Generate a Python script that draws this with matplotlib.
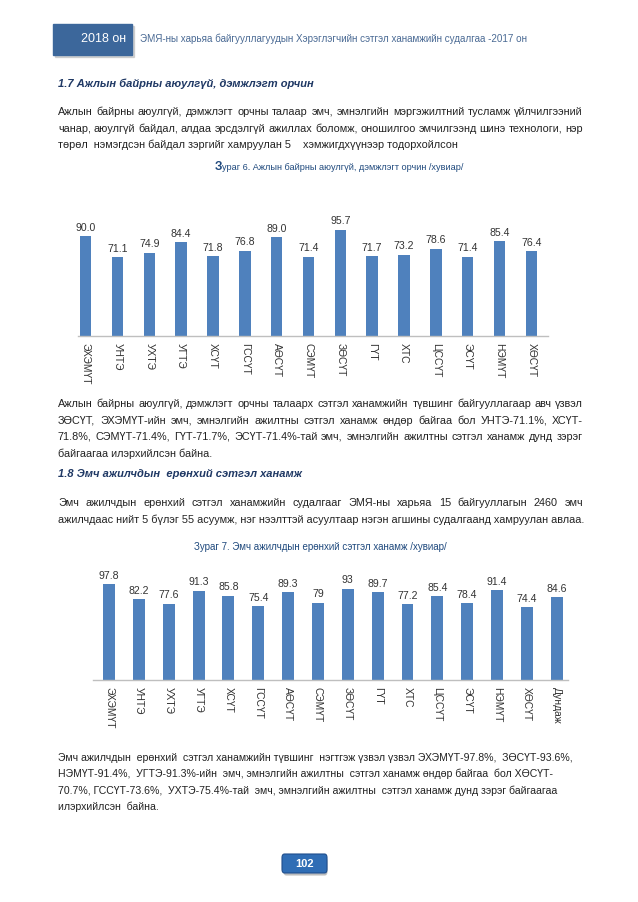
import matplotlib
matplotlib.use('Agg')
import matplotlib.pyplot as plt
from matplotlib.patches import Rectangle, FancyBboxPatch
from matplotlib.font_manager import FontProperties

# chart data
cats1 = ['ЭХЭМҮТ', 'УНТЭ', 'УХТЭ', 'УГТЭ', 'ХСҮТ', 'ГССҮТ', 'АӨСҮТ', 'СЭМҮТ',
         'ЗӨСҮТ', 'ГҮТ', 'ХТС', 'ЦССҮТ', 'ЭСҮТ', 'НЭМҮТ', 'ХӨСҮТ']
vals1 = [90.0, 71.1, 74.9, 84.4, 71.8, 76.8, 89.0, 71.4, 95.7, 71.7, 73.2, 78.6, 71.4, 85.4, 76.4]
cats2 = cats1 + ['Дундаж']
vals2 = [97.8, 82.2, 77.6, 91.3, 85.8, 75.4, 89.3, 79, 93, 89.7, 77.2, 85.4, 78.4, 91.4, 74.4, 84.6]

header = 'ЭМЯ-ны харьяа байгууллагуудын Хэрэглэгчийн сэтгэл ханамжийн судалгаа -2017 он'
head1 = '1.7 Ажлын байрны аюулгүй, дэмжлэгт орчин'
para1 = ['Ажлын байрны аюулгүй, дэмжлэгт орчны талаар эмч, эмнэлгийн мэргэжилтний тусламж үйлчилгээний',
         'чанар, аюулгүй байдал, алдаа эрсдэлгүй ажиллах боломж, оношилгоо эмчилгээнд шинэ технологи, нэр',
         'төрөл  нэмэгдсэн байдал зэргийг хамруулан 5    хэмжигдхүүнээр тодорхойлсон']
cap1 = 'ураг 6. Ажлын байрны аюулгүй, дэмжлэгт орчин /хувиар/'
para2 = ['Ажлын байрны аюулгүй, дэмжлэгт орчны талаарх сэтгэл ханамжийн түвшинг байгууллагаар авч үзвэл',
         'ЗӨСҮТ, ЭХЭМҮТ-ийн эмч, эмнэлгийн ажилтны сэтгэл ханамж өндөр байгаа бол УНТЭ-71.1%, ХСҮТ-',
         '71.8%, СЭМҮТ-71.4%, ГҮТ-71.7%, ЭСҮТ-71.4%-тай эмч, эмнэлгийн ажилтны сэтгэл ханамж дунд зэрэг',
         'байгаагаа илэрхийлсэн байна.']
head2 = '1.8 Эмч ажилчдын  ерөнхий сэтгэл ханамж'
para3 = ['Эмч ажилчдын ерөнхий сэтгэл ханамжийн судалгааг ЭМЯ-ны харьяа 15 байгууллагын 2460 эмч',
         'ажилчдаас нийт 5 бүлэг 55 асуумж, нэг нээлттэй асуултаар нэгэн агшины судалгаанд хамруулан авлаа.']
cap2 = 'Зураг 7. Эмч ажилчдын ерөнхий сэтгэл ханамж /хувиар/'
para4 = ['Эмч ажилчдын  ерөнхий  сэтгэл ханамжийн түвшинг  нэгтгэж үзвэл үзвэл ЭХЭМҮТ-97.8%,  ЗӨСҮТ-93.6%,',
         'НЭМҮТ-91.4%,  УГТЭ-91.3%-ийн  эмч, эмнэлгийн ажилтны  сэтгэл ханамж өндөр байгаа  бол ХӨСҮТ-',
         '70.7%, ГССҮТ-73.6%,  УХТЭ-75.4%-тай  эмч, эмнэлгийн ажилтны  сэтгэл ханамж дунд зэрэг байгаагаа',
         'илэрхийлсэн  байна.']
page_no = '102'

W, H = 638, 902
FONT = ['Liberation Sans', 'DejaVu Sans']
plt.rcParams['font.family'] = FONT

fig = plt.figure(figsize=(W / 100, H / 100), dpi=100)
fig.patch.set_facecolor('white')
renderer = fig.canvas.get_renderer()


def fx(x):
    return x / W


def fy(y):
    return 1 - y / H


def text_width(s, size, weight='normal', style='normal'):
    fp = FontProperties(family=FONT, size=size, weight=weight, style=style)
    w, h, d = renderer.get_text_width_height_descent(s, fp, ismath=False)
    return w


def line(y, s, size=7.8, justify=False, x0=58, x1=583, color='#222222', **kw):
    # y is the visual middle of the line, text sits on a baseline just below it
    yb = fy(y + size * 0.48)
    if not justify:
        fig.text(fx(x0), yb, s, size=size, color=color, va='baseline', ha='left', **kw)
        return
    words = s.split()
    widths = [text_width(w, size, **kw) for w in words]
    gap = (x1 - x0 - sum(widths)) / (len(words) - 1)
    x = x0
    for w, wd in zip(words, widths):
        fig.text(fx(x), yb, w, size=size, color=color, va='baseline', ha='left', **kw)
        x += wd + gap


def bar_chart(left, right, base, first, step, scale, bw, cats, vals, labels):
    ymax = 110
    ax = fig.add_axes([fx(left), fy(base), (right - left) / W, ymax * scale / H])
    ax.patch.set_alpha(0)
    n = len(vals)
    ax.bar(range(n), vals, width=bw, color='#4F81BD')
    for i, v in enumerate(vals):
        ax.annotate(labels[i], (i, v), xytext=(0, 2.5), textcoords='offset points',
                    ha='center', va='bottom', fontsize=7.6, color='#333333')
    ax.set_xlim(-(first - left) / step, (right - first) / step)
    ax.set_ylim(0, ymax)
    ax.set_xticks(range(n))
    ax.set_xticklabels(cats, rotation=-90, fontsize=7.4, color='#333333', va='top', ha='center')
    ax.tick_params(axis='x', length=0, pad=5)
    ax.set_yticks([])
    for s in ['left', 'right', 'top']:
        ax.spines[s].set_visible(False)
    ax.spines['bottom'].set_color('#BFBFBF')
    ax.spines['bottom'].set_linewidth(1.0)
    return ax


# page header
fig.patches.append(Rectangle((fx(55), fy(57)), 79 / W, 31 / H, transform=fig.transFigure,
                             color='#BBBBBB', alpha=0.6, zorder=1))
fig.patches.append(Rectangle((fx(53), fy(55)), 79 / W, 31 / H, transform=fig.transFigure,
                             color='#3C679B', zorder=2))
fig.text(fx(104), fy(39), '2018 он', size=9, color='white', ha='center', va='center')
fig.text(fx(140), fy(39), header, size=7.1, color='#4A6A94', ha='left', va='center')

# section 1.7
line(83, head1, size=8, color='#1F3864', weight='bold', style='italic')
line(111, para1[0], justify=True)
line(128, para1[1], justify=True)
line(144, para1[2])

# caption 6 with larger first letter
w0 = text_width('З', 8.6, weight='bold')
fig.text(fx(215), fy(167), 'З', size=8.6, weight='bold', color='#1F497D', ha='left', va='center')
fig.text(fx(215 + w0), fy(167), cap1, size=6.6, color='#1F497D', ha='left', va='center')

bar_chart(78, 548, 336, 85.7, 31.83, 1.11, 0.36, cats1, vals1, ['%.1f' % v for v in vals1])

line(403, para2[0], justify=True)
line(420, para2[1], justify=True)
line(436, para2[2], justify=True)
line(453, para2[3])

line(473, head2, size=8, color='#1F3864', weight='bold', style='italic')
line(502, para3[0], justify=True)
line(519, para3[1])

fig.text(fx(320), fy(547), cap2, size=7, color='#1F497D', ha='center', va='center')

bar_chart(93, 568, 680, 109, 29.85, 0.98, 0.4, cats2, vals2, ['%g' % v for v in vals2])

for i, s in enumerate(para4):
    line(757 + i * 16.6, s, size=7.6)

# page number box
fig.patches.append(FancyBboxPatch((fx(284), fy(875)), 43 / W, 17 / H, transform=fig.transFigure,
                                  boxstyle='round,pad=0,rounding_size=0.004',
                                  color='#AAAAAA', alpha=0.6, zorder=1))
fig.patches.append(FancyBboxPatch((fx(282), fy(873)), 45 / W, 19 / H, transform=fig.transFigure,
                                  boxstyle='round,pad=0,rounding_size=0.004',
                                  facecolor='#2F6DB5', edgecolor='#1F4E8C', lw=0.8, zorder=2))
fig.text(fx(304.5), fy(864), page_no, size=8, weight='bold', color='white', ha='center', va='center')

fig.savefig('out.png', dpi=100)
